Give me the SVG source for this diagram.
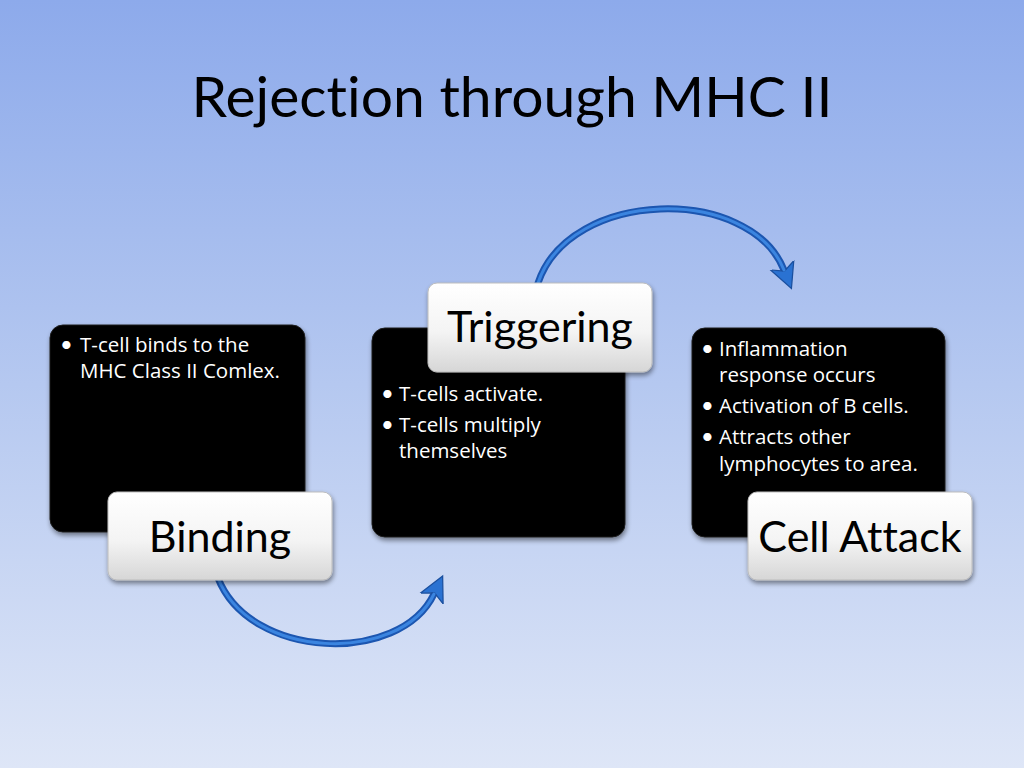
<svg xmlns="http://www.w3.org/2000/svg" width="1024" height="768" viewBox="0 0 1024 768">
<defs>
<linearGradient id="bg" x1="0" y1="0" x2="0" y2="1">
<stop offset="0" stop-color="#8DAAEB"/>
<stop offset="0.5" stop-color="#B5C8F0"/>
<stop offset="1" stop-color="#DEE6F7"/>
</linearGradient>
<linearGradient id="light" x1="0" y1="0" x2="0" y2="1">
<stop offset="0" stop-color="#FFFFFF"/>
<stop offset="0.55" stop-color="#F4F4F4"/>
<stop offset="1" stop-color="#D6D6D6"/>
</linearGradient>
<filter id="sh" x="-10%" y="-10%" width="125%" height="130%">
<feGaussianBlur in="SourceAlpha" stdDeviation="2.5"/>
<feOffset dx="1" dy="3" result="b"/>
<feComponentTransfer><feFuncA type="linear" slope="0.45"/></feComponentTransfer>
<feMerge><feMergeNode/><feMergeNode in="SourceGraphic"/></feMerge>
</filter>
<marker id="ah" markerUnits="userSpaceOnUse" markerWidth="30" markerHeight="30" refX="4" refY="10" orient="auto" viewBox="0 0 24 20">
<path d="M0,0 L20,10 L0,20 L5,10 Z" fill="#2A72D2" stroke="#1A4F9E" stroke-width="1"/>
</marker>
<style>
text{font-variant-ligatures:none}
.box{fill:#000;stroke:#1E1E1E;stroke-width:1;filter:url(#sh)}
.lab{fill:url(#light);stroke:#BDBDBD;stroke-width:1;filter:url(#sh)}
.bt{font-family:"Open Sans",Lato,sans-serif;font-size:20.5px;fill:#FFFFFF}
.bu{font-family:Lato,"Open Sans",sans-serif;font-size:22px;fill:#FFFFFF}
.lt{font-family:Lato,"Open Sans",sans-serif;font-size:43px;fill:#000;text-anchor:middle}
.arr{fill:none;stroke:#1C56B0;stroke-width:7;stroke-linecap:round}
.arrh{fill:none;stroke:#3B85E0;stroke-width:3;stroke-linecap:round}
</style>
</defs>
<rect x="0" y="0" width="1024" height="768" fill="url(#bg)"/>
<text x="512" y="117" font-family="Lato,'Open Sans',sans-serif" font-size="57" text-anchor="middle" fill="#000">Rejection through MHC II</text>
<g id="connectors">
<path class="arr" d="M218,578 C250,660 400,665 434,594" marker-end="url(#ah)"/>
<path class="arrh" d="M218,578 C250,660 400,665 434,594"/>
<path class="arr" d="M538,283 C570,188 750,185 784,270" marker-end="url(#ah)"/>
<path class="arrh" d="M538,283 C570,188 750,185 784,270"/>
</g>
<g id="node-binding">
<rect class="box" x="50" y="325" width="255" height="207" rx="13"/>
<text class="bu" x="60" y="352">•</text>
<text class="bt" x="80" y="352">T-cell binds to the</text>
<text class="bt" x="80" y="378">MHC Class II Comlex.</text>
<rect class="lab" x="108" y="492" width="224" height="88" rx="9"/>
<text class="lt" x="220" y="552">Binding</text>
</g>
<g id="node-triggering">
<rect class="box" x="372" y="328" width="253" height="209" rx="13"/>
<text class="bu" x="381" y="401">•</text>
<text class="bt" x="399" y="401">T-cells activate.</text>
<text class="bu" x="381" y="432">•</text>
<text class="bt" x="399" y="432">T-cells multiply</text>
<text class="bt" x="399" y="458">themselves</text>
<rect class="lab" x="428" y="283" width="224" height="89" rx="9"/>
<text class="lt" x="540" y="342">Triggering</text>
</g>
<g id="node-cell-attack">
<rect class="box" x="692" y="328" width="253" height="209" rx="13"/>
<text class="bu" x="701" y="356">•</text>
<text class="bt" x="719" y="356">Inflammation</text>
<text class="bt" x="719" y="382">response occurs</text>
<text class="bu" x="701" y="413">•</text>
<text class="bt" x="719" y="413">Activation of B cells.</text>
<text class="bu" x="701" y="444">•</text>
<text class="bt" x="719" y="444">Attracts other</text>
<text class="bt" x="719" y="471">lymphocytes to area.</text>
<rect class="lab" x="748" y="492" width="224" height="88" rx="9"/>
<text class="lt" x="860" y="552">Cell Attack</text>
</g>
</svg>
